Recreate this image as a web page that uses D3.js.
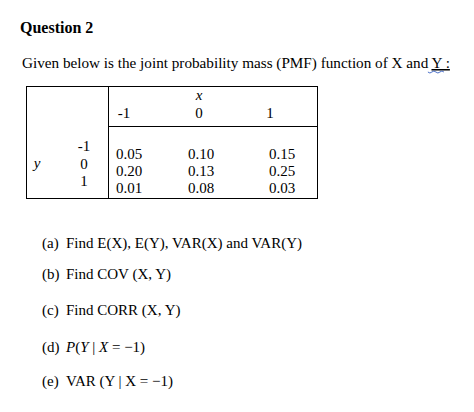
<!DOCTYPE html><html><head><meta charset="utf-8">
<script src="https://cdn.jsdelivr.net/npm/d3@7"></script>
<style>body{margin:0;background:#fff}</style></head><body>
<script>
const xValues=["-1","0","1"];
const yValues=["-1","0","1"];
const probs=[[0.05,0.10,0.15],[0.20,0.13,0.25],[0.01,0.08,0.03]];
const questions=[
 {lab:"(a)",txt:"Find E(X), E(Y), VAR(X) and VAR(Y)"},
 {lab:"(b)",txt:"Find COV (X, Y)"},
 {lab:"(c)",txt:"Find CORR (X, Y)"},
 {lab:"(d)",txt:"P(Y | X = −1)",it:true},
 {lab:"(e)",txt:"VAR (Y | X = −1)"}];
const qY=[248,279,315,352,386];
const F="'Liberation Serif','Times New Roman',serif";
const svg=d3.select("body").append("svg").attr("width",474).attr("height",412).style("font-family",F);
svg.append("text").attr("x",20).attr("y",33).attr("font-size",16).attr("font-weight","bold").text("Question 2");
const gt=svg.append("text").attr("x",22).attr("y",68).attr("font-size",15.2);
gt.append("tspan").text("Given below is the joint probability mass (PMF) function of X and ");
gt.append("tspan").attr("text-decoration","underline").text("Y :");
const L=gt.node().getComputedTextLength();
svg.append("path").attr("d",`M${22+L-22},72 q2,2 4,0 t4,0 t4,0 t4,0`).attr("stroke","#4a6fc8").attr("fill","none").attr("stroke-width",1);
const g=svg.append("g");
g.append("rect").attr("x",26.5).attr("y",86.5).attr("width",291).attr("height",112).attr("fill","none").attr("stroke","#000");
g.append("line").attr("x1",108.5).attr("x2",108.5).attr("y1",86).attr("y2",199).attr("stroke","#000");
g.append("line").attr("x1",108).attr("x2",318).attr("y1",126.5).attr("y2",126.5).attr("stroke","#000");
const ys=d3.scalePoint().domain(yValues).range([151,186]);
const vs=d3.scalePoint().domain(yValues).range([159,193]);
g.append("text").attr("x",199).attr("y",100).attr("font-size",15).attr("font-style","italic").attr("text-anchor","middle").text("x");
const colCenters={"-1":124,"0":199,"1":270};
xValues.forEach(v=>g.append("text").attr("x",colCenters[v]).attr("y",118).attr("font-size",15).attr("text-anchor","middle").text(v));
yValues.forEach(v=>g.append("text").attr("x",84).attr("y",ys(v)).attr("font-size",15).attr("text-anchor","middle").text(v));
g.append("text").attr("x",37).attr("y",168).attr("font-size",15).attr("font-style","italic").attr("text-anchor","middle").text("y");
const valCenters={"-1":129,"0":201,"1":282};
yValues.forEach((yv,i)=>xValues.forEach((xv,j)=>g.append("text").attr("x",valCenters[xv]).attr("y",vs(yv)).attr("font-size",15).attr("text-anchor","middle").text(probs[i][j].toFixed(2))));
questions.forEach((q,i)=>{
 svg.append("text").attr("x",42).attr("y",qY[i]).attr("font-size",15).text(q.lab);
 const t=svg.append("text").attr("x",66).attr("y",qY[i]).attr("font-size",15);
 if(q.it){t.append("tspan").attr("font-style","italic").text("P");t.append("tspan").text("(");t.append("tspan").attr("font-style","italic").text("Y");t.append("tspan").text(" | ");t.append("tspan").attr("font-style","italic").text("X");t.append("tspan").text(" = −1)");}
 else t.text(q.txt);
});
</script></body></html>
